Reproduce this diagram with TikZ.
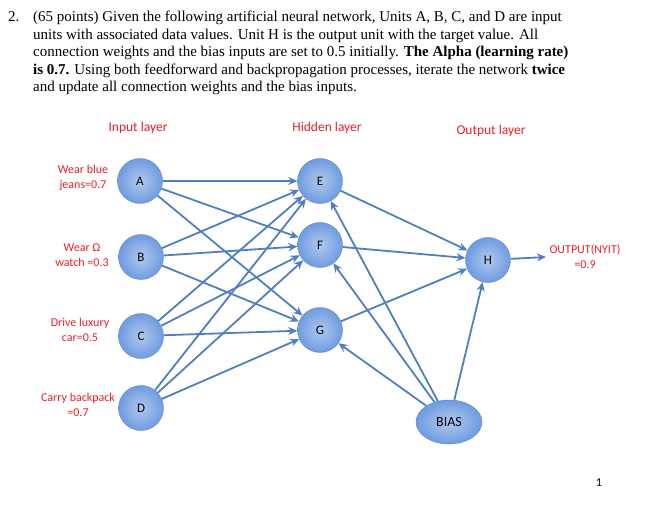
\documentclass[tikz,border=0pt]{standalone}
\usepackage{fontspec}
\setmainfont{Liberation Serif}
\newfontfamily\carfont{Carlito}
\usetikzlibrary{arrows.meta,shapes.geometric}
\definecolor{nb}{HTML}{6F9BE0}
\definecolor{nbd}{HTML}{5A86C8}
\definecolor{ln}{HTML}{4F7FBE}
\definecolor{rd}{HTML}{E8202A}
\begin{document}
\begin{tikzpicture}[x=1pt,y=-1pt,
 unit/.style={circle,minimum size=45pt,inner sep=0pt,draw=nbd,inner color=nb!55!white,outer color=nb,font=\carfont\fontsize{13}{14}\selectfont},
 lab/.style={text=rd,align=center,font=\carfont\fontsize{12}{15}\selectfont},
 hdr/.style={text=rd,font=\carfont\fontsize{13.5}{15}\selectfont},
 con/.style={draw=ln,line width=1.8pt,-{Stealth[length=9pt,width=8pt]}}]
\useasboundingbox (0,0) rectangle (647,512);
\node[anchor=north west,inner sep=0pt,font=\fontsize{15}{17.5}\selectfont] (num) at (8,11) {2.};
\node[anchor=north west,inner sep=0pt,align=left,font=\fontsize{15}{17.5}\selectfont] (par) at (33,11) {(65 points) Given the following artificial neural network, Units A, B, C, and D are input\\ units with associated data values. Unit H is the output unit with the target value. All\\ connection weights and the bias inputs are set to 0.5 initially. \textbf{The Alpha (learning rate)}\\ \textbf{is 0.7.} Using both feedforward and backpropagation processes, iterate the network \textbf{twice}\\ and update all connection weights and the bias inputs.};
\node[hdr] (hi) at (138,128) {Input layer};
\node[hdr] (hh) at (327,128) {Hidden layer};
\node[hdr] (ho) at (491,131) {Output layer};
\node[unit] (A) at (140,181) {A};
\node[unit] (B) at (141,257) {B};
\node[unit] (C) at (141,336) {C};
\node[unit] (D) at (141,408) {D};
\node[unit] (E) at (320,181) {E};
\node[unit] (F) at (320,245) {F};
\node[unit] (G) at (320,330) {G};
\node[unit] (H) at (488,260) {H};
\node[ellipse,minimum width=66pt,minimum height=44pt,inner sep=0pt,draw=nbd,inner color=nb!55!white,outer color=nb,font=\carfont\fontsize{14}{15}\selectfont] (BIAS) at (449,422) {BIAS};
\node[lab] (la) at (83,178) {Wear blue\\jeans=0.7};
\node[lab] (lb) at (82,255) {Wear Ω\\watch =0.3};
\node[lab] (lc) at (80,330) {Drive luxury\\car=0.5};
\node[lab] (ld) at (78,405) {Carry backpack\\=0.7};
\node[lab] (lo) at (585,257) {OUTPUT(NYIT)\\=0.9};
\node[font=\carfont\fontsize{12}{13}\selectfont] (pg) at (599,483) {1};
\foreach \i in {A,B,C,D}{\foreach \h in {E,F,G}{\draw[con] (\i) -- (\h);}}
\foreach \h in {E,F,G}{\draw[con] (\h) -- (H);}
\foreach \h in {E,F,G,H}{\draw[con] (BIAS) -- (\h);}
\draw[con] (H) -- (lo.west);
\end{tikzpicture}
\end{document}
